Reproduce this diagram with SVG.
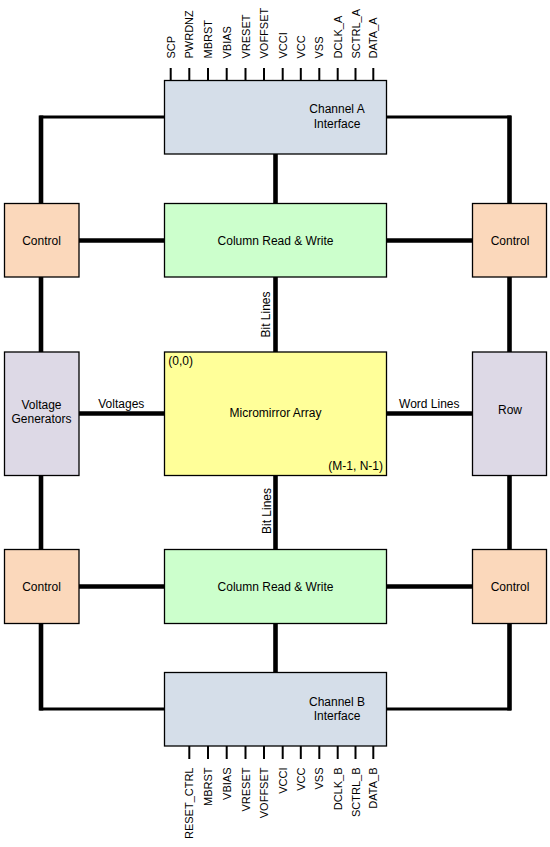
<svg xmlns="http://www.w3.org/2000/svg" width="550" height="847" viewBox="0 0 550 847">
<style>
  text { font-family: "Liberation Sans", Arial, sans-serif; font-size: 12px; fill: #000; }
  .p { font-size: 11px; }
  .c { text-anchor: middle; }
  .box { stroke: #000; stroke-width: 1.3; }
  .chan { fill: #d5dee9; }
  .ctrl { fill: #fbd8bb; }
  .col { fill: #ccffcc; }
  .arr { fill: #ffff99; }
  .gen { fill: #ddd9e6; }
  .bus { stroke: #000; stroke-width: 4.6; fill: none; }
  .thin { stroke: #000; stroke-width: 3.2; fill: none; }
  .pin { stroke: #000; stroke-width: 2; }
</style>
<rect width="550" height="847" fill="#fff"/>

<g id="connectors">
  <line class="bus" x1="275.5" y1="154" x2="275.5" y2="203.5"/>
  <line class="bus" x1="275.5" y1="277" x2="275.5" y2="352"/>
  <line class="bus" x1="275.5" y1="476" x2="275.5" y2="549.5"/>
  <line class="bus" x1="275.5" y1="623.5" x2="275.5" y2="672"/>
  <line class="thin" x1="164" y1="117" x2="39.5" y2="117"/>
  <line class="bus" x1="41" y1="115.5" x2="41" y2="203.5"/>
  <line class="bus" x1="79" y1="240.5" x2="164" y2="240.5"/>
  <line class="bus" x1="41" y1="277" x2="41" y2="352"/>
  <line class="bus" x1="79" y1="413.5" x2="164" y2="413.5"/>
  <line class="bus" x1="41" y1="476" x2="41" y2="549.5"/>
  <line class="bus" x1="79" y1="586.5" x2="164" y2="586.5"/>
  <line class="bus" x1="41" y1="623.5" x2="41" y2="710.5"/>
  <line class="thin" x1="39.5" y1="709" x2="164" y2="709"/>
  <line class="thin" x1="386.5" y1="117" x2="511" y2="117"/>
  <line class="bus" x1="509.5" y1="115.5" x2="509.5" y2="203.5"/>
  <line class="bus" x1="386.5" y1="240.5" x2="472.5" y2="240.5"/>
  <line class="bus" x1="509.5" y1="277" x2="509.5" y2="352"/>
  <line class="bus" x1="386.5" y1="413.5" x2="472.5" y2="413.5"/>
  <line class="bus" x1="509.5" y1="476" x2="509.5" y2="549.5"/>
  <line class="bus" x1="386.5" y1="586.5" x2="472.5" y2="586.5"/>
  <line class="bus" x1="509.5" y1="623.5" x2="509.5" y2="710.5"/>
  <line class="thin" x1="386.5" y1="709" x2="511" y2="709"/>
  <text transform="translate(270,314.5) rotate(-90)" class="c">Bit Lines</text>
  <text transform="translate(270.5,511) rotate(-90)" class="c">Bit Lines</text>
  <text x="121.3" y="407.5" class="c">Voltages</text>
  <text x="429.3" y="407.5" class="c">Word Lines</text>
</g>

<g id="channelA">
  <g class="pin">
    <line x1="170.7" y1="68" x2="170.7" y2="80"/>
    <line x1="189.3" y1="68" x2="189.3" y2="80"/>
    <line x1="208" y1="68" x2="208" y2="80"/>
    <line x1="226.7" y1="68" x2="226.7" y2="80"/>
    <line x1="245.5" y1="68" x2="245.5" y2="80"/>
    <line x1="264" y1="68" x2="264" y2="80"/>
    <line x1="282.7" y1="68" x2="282.7" y2="80"/>
    <line x1="300.8" y1="68" x2="300.8" y2="80"/>
    <line x1="319.3" y1="68" x2="319.3" y2="80"/>
    <line x1="337.7" y1="68" x2="337.7" y2="80"/>
    <line x1="355.5" y1="68" x2="355.5" y2="80"/>
    <line x1="373.3" y1="68" x2="373.3" y2="80"/>
  </g>
  <g class="p">
  <text class="p" transform="translate(174.7,58.5) rotate(-90)">SCP</text>
  <text class="p" transform="translate(193.3,58.5) rotate(-90)">PWRDNZ</text>
  <text class="p" transform="translate(212,58.5) rotate(-90)">MBRST</text>
  <text class="p" transform="translate(230.7,58.5) rotate(-90)">VBIAS</text>
  <text class="p" transform="translate(249.5,58.5) rotate(-90)">VRESET</text>
  <text class="p" transform="translate(268,58.5) rotate(-90)">VOFFSET</text>
  <text class="p" transform="translate(286.7,58.5) rotate(-90)">VCCI</text>
  <text class="p" transform="translate(304.8,58.5) rotate(-90)">VCC</text>
  <text class="p" transform="translate(323.3,58.5) rotate(-90)">VSS</text>
  <text class="p" transform="translate(341.7,58.5) rotate(-90)">DCLK_A</text>
  <text class="p" transform="translate(359.5,58.5) rotate(-90)">SCTRL_A</text>
  <text class="p" transform="translate(377.3,58.5) rotate(-90)">DATA_A</text>
  </g>
  <rect class="box chan" x="164.5" y="80.5" width="222" height="73.5"/>
  <text x="337" y="113" class="c">Channel A</text>
  <text x="337" y="127.5" class="c">Interface</text>
</g>

<g id="controlTL">
  <rect class="box ctrl" x="4.5" y="203.5" width="74.5" height="73.5"/>
  <text x="41.5" y="244.5" class="c">Control</text>
</g>
<g id="columnTop">
  <rect class="box col" x="164.5" y="203.5" width="222" height="73.5"/>
  <text x="275.5" y="244.5" class="c">Column Read &amp; Write</text>
</g>
<g id="controlTR">
  <rect class="box ctrl" x="472.5" y="203.5" width="74" height="73.5"/>
  <text x="510" y="244.5" class="c">Control</text>
</g>

<g id="voltageGenerators">
  <rect class="box gen" x="4.5" y="352" width="74.5" height="123.5"/>
  <text x="41.5" y="408.5" class="c">Voltage</text>
  <text x="41.5" y="423" class="c">Generators</text>
</g>
<g id="micromirrorArray">
  <rect class="box arr" x="164.5" y="352" width="222" height="123.5"/>
  <text x="168.3" y="364.5">(0,0)</text>
  <text x="275.5" y="416.5" class="c">Micromirror Array</text>
  <text x="383" y="469.5" text-anchor="end">(M-1, N-1)</text>
</g>
<g id="row">
  <rect class="box gen" x="472.5" y="352" width="74" height="123.5"/>
  <text x="510" y="413.5" class="c">Row</text>
</g>

<g id="controlBL">
  <rect class="box ctrl" x="4.5" y="549.5" width="74.5" height="74"/>
  <text x="41.5" y="590.5" class="c">Control</text>
</g>
<g id="columnBottom">
  <rect class="box col" x="164.5" y="549.5" width="222" height="74"/>
  <text x="275.5" y="590.5" class="c">Column Read &amp; Write</text>
</g>
<g id="controlBR">
  <rect class="box ctrl" x="472.5" y="549.5" width="74" height="74"/>
  <text x="510" y="590.5" class="c">Control</text>
</g>

<g id="channelB">
  <rect class="box chan" x="164.5" y="672.5" width="222" height="73.5"/>
  <text x="337" y="705.5" class="c">Channel B</text>
  <text x="337" y="719.5" class="c">Interface</text>
  <g class="pin">
    <line x1="189.3" y1="746" x2="189.3" y2="759"/>
    <line x1="208" y1="746" x2="208" y2="759"/>
    <line x1="226.7" y1="746" x2="226.7" y2="759"/>
    <line x1="245.5" y1="746" x2="245.5" y2="759"/>
    <line x1="264" y1="746" x2="264" y2="759"/>
    <line x1="282.7" y1="746" x2="282.7" y2="759"/>
    <line x1="300.8" y1="746" x2="300.8" y2="759"/>
    <line x1="319.3" y1="746" x2="319.3" y2="759"/>
    <line x1="337.7" y1="746" x2="337.7" y2="759"/>
    <line x1="355.5" y1="746" x2="355.5" y2="759"/>
    <line x1="373.3" y1="746" x2="373.3" y2="759"/>
  </g>
  <g text-anchor="end">
    <text class="p" transform="translate(193.3,767.5) rotate(-90)">RESET_CTRL</text>
    <text class="p" transform="translate(212,767.5) rotate(-90)">MBRST</text>
    <text class="p" transform="translate(230.7,767.5) rotate(-90)">VBIAS</text>
    <text class="p" transform="translate(249.5,767.5) rotate(-90)">VRESET</text>
    <text class="p" transform="translate(268,767.5) rotate(-90)">VOFFSET</text>
    <text class="p" transform="translate(286.7,767.5) rotate(-90)">VCCI</text>
    <text class="p" transform="translate(304.8,767.5) rotate(-90)">VCC</text>
    <text class="p" transform="translate(323.3,767.5) rotate(-90)">VSS</text>
    <text class="p" transform="translate(341.7,767.5) rotate(-90)">DCLK_B</text>
    <text class="p" transform="translate(359.5,767.5) rotate(-90)">SCTRL_B</text>
    <text class="p" transform="translate(377.3,767.5) rotate(-90)">DATA_B</text>
  </g>
</g>
</svg>
